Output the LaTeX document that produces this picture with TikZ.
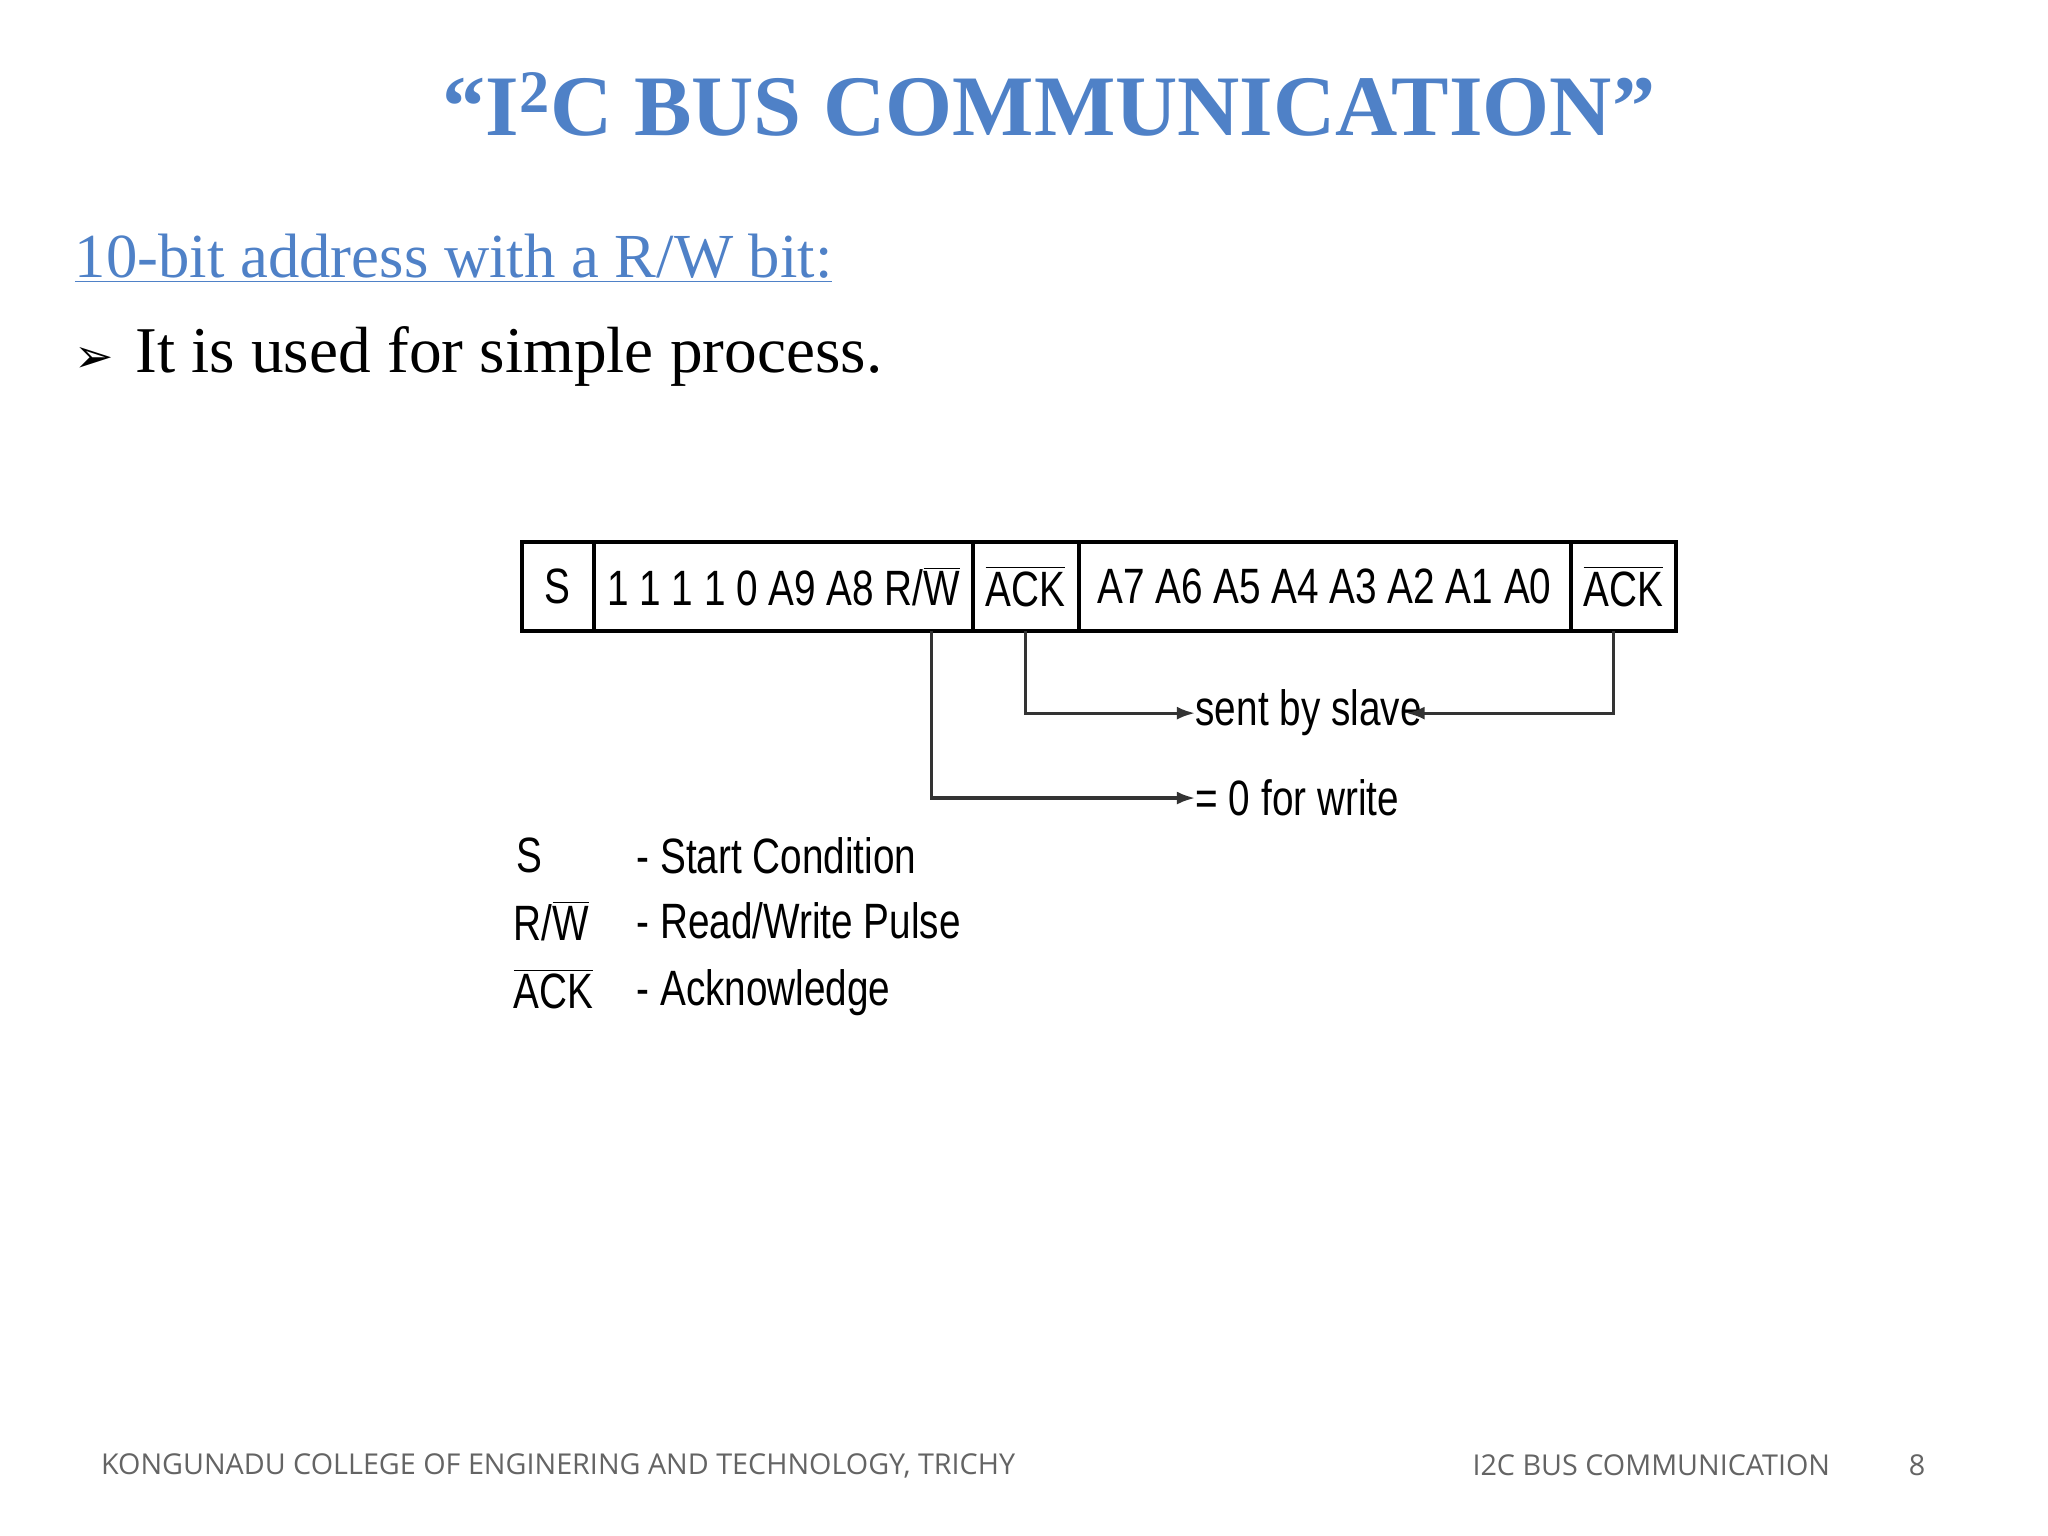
\documentclass[tikz,border=0pt]{standalone}
\usepackage{fontspec}
\setmainfont{Liberation Serif}
\setsansfont{Liberation Sans}
\newfontfamily\footfont{Open Sans}
\definecolor{ttl}{RGB}{79,129,199}
\definecolor{ftgray}{RGB}{100,100,100}
\newcommand{\ovl}[1]{$\overline{\hbox{#1}}$}
\newcommand{\dt}[1]{\scalebox{0.78}[1]{#1}}
\tikzset{
 dtxt/.style={font=\sffamily\fontsize{19}{22}\selectfont, inner sep=0pt},
 lnk/.style={draw=black!80, line width=1.2pt},
 arr/.style={lnk,-{Latex[length=7pt,width=5pt]}},
}
\usetikzlibrary{arrows.meta}
\begin{document}
\begin{tikzpicture}[x=0.5pt,y=-0.5pt]
\useasboundingbox (0,0) rectangle (1568,1176);
\node[font=\bfseries\fontsize{33}{36}\selectfont, text=ttl] (title) at (803,80) {“I\textsuperscript{2}C BUS COMMUNICATION”};
\node[anchor=west, font=\fontsize{24}{28}\selectfont, text=ttl, inner sep=0pt] (sub) at (57,198) {\underline{10-bit address with a R/W bit:}};
\node[anchor=west, font=\fontsize{25}{28}\selectfont, inner sep=0pt] (bul) at (57,273) {\fontspec{DejaVu Sans}\fontsize{18}{20}\selectfont ➢\hspace{8pt}\fontspec{Liberation Serif}\fontsize{25}{28}\selectfont It is used for simple process.};
% box
\draw[line width=1.5pt] (400,415) rectangle (1283,483);
\foreach \x in {455,745,826,1203} \draw[line width=1.5pt] (\x,415) -- (\x,483);
\node[dtxt] (s) at (427,449) {\dt{S}};
\node[dtxt] (addr) at (600,449) {\dt{1 1 1 1 0 A9 A8 R/\ovl{W}}};
\node[dtxt] (ack1) at (785,449) {\dt{\ovl{ACK}}};
\node[dtxt] (addr2) at (1014,449) {\dt{A7 A6 A5 A4 A3 A2 A1 A0}};
\node[dtxt] (ack2) at (1243,449) {\dt{\ovl{ACK}}};
\node[dtxt, anchor=west] (slave) at (915,546) {\dt{sent by slave}};
\node[dtxt, anchor=west] (write) at (915,611) {\dt{= 0 for write}};
\coordinate (rw) at (713,483);
\coordinate (a1) at (785,483);
\coordinate (a2) at (1235,483);
\draw[arr] (a1) |- (slave.west);
\draw[arr] (a2) |- ([xshift=-6pt]slave.east);
\draw[arr] (rw) |- (write.west);
\node[dtxt, anchor=west] (l1) at (395,655) {\dt{S}};
\node[dtxt, anchor=west] (l2) at (393,705) {\dt{R/\ovl{W}}};
\node[dtxt, anchor=west] (l3) at (393,757) {\dt{\ovl{ACK}}};
\node[dtxt, anchor=west] (d1) at (487,655) {\dt{- Start Condition}};
\node[dtxt, anchor=west] (d2) at (487,705) {\dt{- Read/Write Pulse}};
\node[dtxt, anchor=west] (d3) at (487,760) {\dt{- Acknowledge}};
\node[anchor=west, font=\footfont\fontsize{11}{13}\selectfont, text=ftgray, inner sep=0pt] (f1) at (77,1122) {KONGUNADU COLLEGE OF ENGINERING AND TECHNOLOGY, TRICHY};
\node[anchor=west, font=\footfont\fontsize{11}{13}\selectfont, text=ftgray, inner sep=0pt] (f2) at (1127,1122) {I2C BUS COMMUNICATION};
\node[anchor=west, font=\footfont\fontsize{11}{13}\selectfont, text=ftgray, inner sep=0pt] (f3) at (1461,1122) {8};
\end{tikzpicture}
\end{document}
